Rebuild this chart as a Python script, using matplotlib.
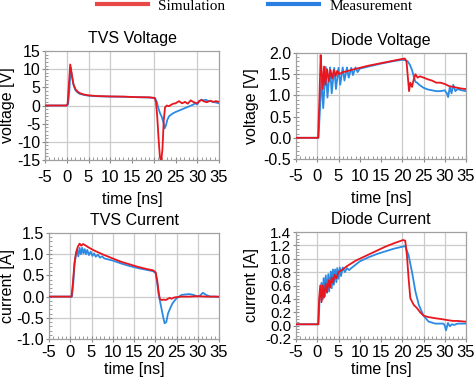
import matplotlib
matplotlib.use('Agg')
import matplotlib.pyplot as plt
from matplotlib.lines import Line2D
from matplotlib.ticker import MultipleLocator

plt.rcParams['font.family'] = ['Liberation Sans', 'DejaVu Sans']

# ---------------- data ----------------
legend_labels = ['Simulation', 'Measurement']
titles = ['TVS Voltage', 'Diode Voltage', 'TVS Current', 'Diode Current']
ylabels = ['voltage [V]', 'voltage [V]', 'current [A]', 'current [A]']
xlabel = 'time [ns]'
x_ticks = [-5, 0, 5, 10, 15, 20, 25, 30, 35]

# TVS voltage
tvs_v_sim_t = [-5, 0.0, 0.2, 0.5, 0.8, 1.1, 1.5, 2.0, 2.5, 3.0, 4.0, 5.0, 7.0, 10.0, 13, 16, 19,
               20.2, 20.5, 20.8, 21.1, 21.4, 21.7, 22.0, 22.3, 22.6, 23.0, 23.5, 24.0, 24.5, 25.0,
               25.8, 26.5, 27.2, 27.8, 28.5, 29.2, 30.0, 30.5, 31.0, 31.6, 32.2, 33.0, 33.7, 34.3, 35.0]
tvs_v_sim = [0, 0, 0.5, 6, 11.3, 9, 6, 4.5, 3.8, 3.4, 3.0, 2.8, 2.6, 2.5, 2.45, 2.3, 2.25,
             2.1, 1.0, -3, -9, -14, -15.5, -12, -4, -0.5, 0.0, -0.2, 0.2, 0.5, 0.6,
             1.2, 0.6, 1.0, 0.5, 1.4, 0.9, 0.6, 1.3, 1.5, 1.1, 0.9, 1.3, 1.0, 1.2, 1.0]
tvs_v_meas_t = [-5, 0.0, 0.3, 0.6, 0.9, 1.2, 1.6, 2.0, 2.5, 3.0, 4.0, 5.0, 7.0, 10.0, 13, 16, 19,
                20.3, 20.7, 21.0, 21.4, 21.8, 22.2, 22.5, 22.8, 23.1, 23.5, 24.0, 24.5, 25.0, 26.0,
                27.0, 28.0, 29.0, 29.5, 30.0, 30.5, 31.0, 31.5, 32.0, 32.5, 33.0, 33.5, 34.0, 35.0]
tvs_v_meas = [0, 0, 0.3, 4, 10.5, 8, 5.5, 4.2, 3.6, 3.2, 2.9, 2.7, 2.55, 2.45, 2.4, 2.3, 2.2,
              2.0, 1.0, -0.5, -2.0, -3.0, -4.5, -6.3, -5.5, -4.0, -3.0, -2.5, -2.1, -1.8, -1.3,
              -0.8, -0.3, 0.2, 0.6, 0.3, 1.2, 1.6, 1.4, 1.6, 1.2, 1.3, 1.0, 0.9, 0.6]

# Diode voltage
dio_v_sim_t = [-5, 0.2, 0.5, 0.8, 1.0, 1.3, 1.6, 1.9, 2.3, 2.7, 3.1, 3.5, 3.9, 4.3, 4.7, 5.2, 6, 7, 8,
               10, 12, 15, 18, 20, 20.6, 21.0, 21.3, 21.6, 21.9, 22.3, 22.7, 23.1, 23.6, 24.2, 25,
               26, 27, 28, 29, 30, 31, 32, 33, 34, 35]
dio_v_sim = [0, 0, 0.9, 1.95, 1.6, 1.15, 1.68, 1.25, 1.62, 1.33, 1.6, 1.4, 1.6, 1.45, 1.58, 1.5, 1.55,
             1.57, 1.6, 1.65, 1.7, 1.76, 1.82, 1.86, 1.87, 1.8, 1.45, 1.1, 1.3, 1.2, 1.38, 1.5, 1.42,
             1.45, 1.42, 1.38, 1.35, 1.3, 1.3, 1.27, 1.22, 1.2, 1.18, 1.16, 1.15]
dio_v_meas_t = [-5, 0.3, 0.7, 1.0, 1.4, 2.0, 2.4, 3.0, 3.4, 4.0, 4.4, 5.0, 5.4, 6.0, 6.4, 7.0, 7.4,
                8.0, 8.4, 9.0, 9.5, 10, 12, 15, 18, 20, 20.8, 21.3, 21.8, 22.3, 22.7, 23.1, 23.5,
                24, 25, 26, 27, 28, 29, 30, 30.5, 30.8, 31.2, 31.6, 32, 32.5, 33, 34, 35]
dio_v_meas = [0, 0, 0.8, 1.4, 0.7, 1.67, 0.95, 1.66, 1.05, 1.65, 1.15, 1.65, 1.25, 1.66, 1.35, 1.66,
              1.42, 1.65, 1.48, 1.66, 1.55, 1.63, 1.68, 1.75, 1.81, 1.84, 1.83, 1.8, 1.72, 1.6,
              1.45, 1.32, 1.3, 1.25, 1.18, 1.14, 1.12, 1.1, 1.1, 1.12, 1.05, 0.96, 1.2, 1.05,
              1.25, 1.1, 1.15, 1.12, 1.1]

# TVS current
tvs_i_sim_t = [-5, 0.3, 0.6, 1.0, 1.4, 1.8, 2.2, 2.6, 3.0, 3.4, 4, 5, 6, 8, 10, 12, 14, 16, 18,
               19.5, 20.1, 20.5, 20.8, 21.1, 21.5, 22, 22.5, 23, 23.4, 23.8, 24.5, 26, 28, 30, 32, 35]
tvs_i_sim = [0, 0, 0.3, 0.8, 1.05, 1.18, 1.25, 1.2, 1.24, 1.22, 1.18, 1.12, 1.07, 0.98, 0.9, 0.82,
             0.76, 0.7, 0.65, 0.62, 0.57, 0.35, 0.1, -0.06, -0.08, -0.07, -0.08, -0.05, -0.03,
             -0.05, -0.02, 0.0, 0.0, 0.01, 0.0, 0.0]
tvs_i_meas_t = [-5, 0.4, 0.7, 1.0, 1.3, 1.6, 1.9, 2.2, 2.5, 2.8, 3.1, 3.4, 3.7, 4.0, 4.4, 4.8, 5.2,
                5.6, 6.0, 6.5, 7, 7.5, 8, 10, 12, 14, 16, 18, 19.5, 20.1, 20.5, 20.8, 21.1, 21.5,
                21.8, 22.2, 22.6, 23.0, 23.5, 24.0, 24.5, 25.0, 25.6, 26.2, 27, 28, 29, 30, 30.5,
                31.2, 31.8, 32.4, 33, 34, 35]
tvs_i_meas = [0, 0, 0.3, 0.75, 0.97, 1.1, 0.95, 1.15, 1.0, 1.15, 1.02, 1.12, 1.0, 1.1, 0.98, 1.06,
              0.96, 1.02, 0.94, 0.99, 0.92, 0.95, 0.9, 0.85, 0.78, 0.72, 0.67, 0.63, 0.6, 0.55, 0.3,
              0.05, -0.1, -0.3, -0.45, -0.63, -0.6, -0.4, -0.28, -0.17, -0.1, -0.04, 0.0, 0.04,
              0.05, 0.06, 0.04, 0.0, 0.02, 0.09, 0.05, 0.02, 0.0, 0.0, -0.01]

# Diode current
dio_i_sim_t = [-5, 0.2, 0.45, 0.7, 1.0, 1.3, 1.6, 2.0, 2.3, 2.7, 3.0, 3.4, 3.7, 4.1, 4.5, 5, 6, 7,
               8, 9, 10, 12, 14, 16, 18, 20.2, 20.7, 21.1, 21.5, 21.9, 22.7, 23.5, 24.2, 25, 26,
               27.8, 29, 30.9, 32, 33, 34.8, 35]
dio_i_sim = [0.02, 0.02, 0.4, 0.6, 0.35, 0.6, 0.42, 0.63, 0.5, 0.68, 0.57, 0.72, 0.64, 0.76, 0.71,
             0.8, 0.84, 0.89, 0.93, 0.97, 1.0, 1.06, 1.12, 1.18, 1.23, 1.28, 1.27, 1.05, 0.7, 0.41,
             0.31, 0.26, 0.2, 0.15, 0.13, 0.11, 0.1, 0.08, 0.07, 0.07, 0.06, 0.06]
dio_i_meas_t = [-5, 0.3, 0.6, 1.0, 1.3, 1.5, 1.8, 2.0, 2.3, 2.6, 2.8, 3.2, 3.4, 3.7, 3.9, 4.2, 4.5,
                4.7, 5.0, 5.3, 5.6, 6.0, 6.5, 7, 7.5, 8, 10, 12, 14, 16, 18, 20, 20.7, 21.5, 22.3,
                23.1, 23.9, 25, 26.2, 27.8, 29.7, 30.0, 30.3, 30.75, 31.2, 31.7, 32.2, 33, 34, 35]
dio_i_meas = [0.02, 0.02, 0.45, 0.64, 0.39, 0.71, 0.44, 0.75, 0.49, 0.77, 0.51, 0.81, 0.56, 0.84,
              0.61, 0.84, 0.65, 0.86, 0.7, 0.87, 0.74, 0.87, 0.8, 0.86, 0.83, 0.86, 0.96, 1.02,
              1.07, 1.11, 1.15, 1.18, 1.19, 1.05, 0.8, 0.51, 0.31, 0.15, 0.06, 0.03, 0.03, 0.0,
              -0.07, 0.04, -0.01, 0.02, 0.01, 0.03, 0.03, 0.03]

# ---------------- styling ----------------
RED = '#e8161e'
BLUE = '#2b8ae4'
GRID = '#cbcbcb'
SPINE = '#a0a0a0'
XTICK_FS = 12
LABEL_FS = 11.5

W, H = 474, 381
fig = plt.figure(figsize=(W / 100, H / 100), dpi=100)


def px_rect(l, r, t, b):
    return [l / W, 1 - b / H, (r - l) / W, (b - t) / H]


panels = [
    dict(rect=px_rect(45, 219, 51, 160), ylim=(-15, 15), yticks=[-15, -10, -5, 0, 5, 10, 15],
         ytl=['-15', '-10', '-5', '0', '5', '10', '15'], ymin=1, yfs=11.5,
         sim=(tvs_v_sim_t, tvs_v_sim), meas=(tvs_v_meas_t, tvs_v_meas),
         vgrid=[0, 5, 10, 20, 30], hgrid=[10, 0, -10], ylx=-0.172, xpad=5, xlp=5),
    dict(rect=px_rect(296, 466, 53, 159), ylim=(-0.5, 2.0), yticks=[-0.5, 0, 0.5, 1.0, 1.5, 2.0],
         ytl=['-0.5', '0.0', '0.5', '1.0', '1.5', '2.0'], ymin=0.1, yfs=11.5,
         sim=(dio_v_sim_t, dio_v_sim), meas=(dio_v_meas_t, dio_v_meas),
         vgrid=[0, 5, 20, 25, 30], hgrid=[1.5, 1.0], ylx=-0.218, xpad=5, xlp=5),
    dict(rect=px_rect(49, 219, 233, 339), ylim=(-1.0, 1.5), yticks=[-1.0, -0.5, 0, 0.5, 1.0, 1.5],
         ytl=['-1.0', '-0.5', '0.0', '0.5', '1.0', '1.5'], ymin=0.1, yfs=11.5,
         sim=(tvs_i_sim_t, tvs_i_sim), meas=(tvs_i_meas_t, tvs_i_meas),
         vgrid=[0, 5, 10, 15, 20, 25, 30], hgrid=[1.0, 0.0, -0.5], ylx=-0.2, xpad=2, xlp=1.5),
    dict(rect=px_rect(296, 466, 232, 339), ylim=(-0.2, 1.4),
         yticks=[-0.2, 0, 0.2, 0.4, 0.6, 0.8, 1.0, 1.2, 1.4],
         ytl=['-0.2', '0.0', '0.2', '0.4', '0.6', '0.8', '1.0', '1.2', '1.4'], ymin=0.05, yfs=11,
         sim=(dio_i_sim_t, dio_i_sim), meas=(dio_i_meas_t, dio_i_meas),
         vgrid=[0, 5, 20, 25, 30], hgrid=[1.2, 1.0, 0.8], ylx=-0.215, xpad=2, xlp=1.5),
]

for k, p in enumerate(panels):
    ax = fig.add_axes(p['rect'])
    for g in p['vgrid']:
        ax.axvline(g, color=GRID, lw=0.9, zorder=0)
    for g in p['hgrid']:
        ax.axhline(g, color=GRID, lw=0.9, zorder=0)
    ax.plot(*p['meas'], color=BLUE, lw=1.3, zorder=2)
    ax.plot(*p['sim'], color=RED, lw=1.3, zorder=3)
    ax.set_xlim(-5, 35)
    ax.set_ylim(*p['ylim'])
    ax.set_xticks(x_ticks)
    ax.set_xticklabels([str(v) for v in x_ticks])
    ax.set_yticks(p['yticks'])
    ax.set_yticklabels(p['ytl'])
    ax.xaxis.set_minor_locator(MultipleLocator(1))
    ax.yaxis.set_minor_locator(MultipleLocator(p['ymin']))
    ax.tick_params(which='both', color='#8a8a8a')
    ax.tick_params(which='major', direction='inout', length=5, width=0.8, pad=1)
    ax.tick_params(which='minor', direction='in', length=2.5, width=0.6)
    ax.tick_params(axis='x', which='major', pad=p['xpad'], labelsize=XTICK_FS)
    ax.tick_params(axis='y', which='major', labelsize=p['yfs'])
    for s in ax.spines.values():
        s.set_color(SPINE)
        s.set_linewidth(0.9)
    ax.set_title(titles[k], fontsize=LABEL_FS, pad=6)
    ax.set_xlabel(xlabel, fontsize=LABEL_FS, labelpad=p['xlp'])
    ax.set_ylabel(ylabels[k], fontsize=LABEL_FS)
    ax.yaxis.set_label_coords(p['ylx'], 0.5)

handles = [Line2D([], [], color='#e84848', lw=3), Line2D([], [], color='#2a80e0', lw=3)]
fig.legend(handles, legend_labels, loc='center', bbox_to_anchor=(0.538, 0.985), ncol=2,
           frameon=False, prop={'family': 'Liberation Serif', 'size': 11},
           handlelength=3.3, handletextpad=0.7, columnspacing=2.8, borderpad=0, borderaxespad=0)

fig.savefig('out.png', dpi=100)
